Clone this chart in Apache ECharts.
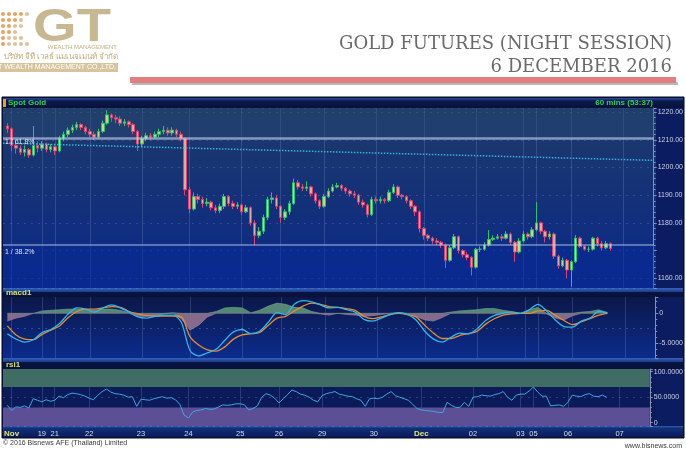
<!DOCTYPE html>
<html><head><meta charset="utf-8">
<script src="https://cdn.jsdelivr.net/npm/echarts@6/dist/echarts.min.js"></script>
<style>html,body{margin:0;padding:0;background:#fff;}#c{width:686px;height:451px;}</style>
</head><body><div id="c"></div>
<script>
// ---------- data ----------
const opens = [
1215,1214,1208,1207,1205.5,1206.5,1204.5,1208,1207,1208.5,
1206.5,1207.5,1206,1210.5,1212,1213.5,1214.5,1215.5,1214.5,1213,
1212,1211,1213,1216,1219,1218,1217.5,1216,1216.5,1215.5,
1213,1208.5,1210.5,1211.5,1211,1212,1213,1213.5,1212.5,1213.5,
1212,1210.5,1192,1185,1189.5,1188.5,1187,1187.5,1185.5,1184.5,
1186,1189.5,1187,1186,1186.5,1184,1185.5,1180,1175.5,1177,
1182,1188.5,1189,1186,1182,1184,1187,1194.5,1193,1192.5,
1193,1190.5,1188,1186,1189.5,1191.5,1193,1193.5,1192.5,1191.5,
1190.5,1190,1187.5,1186.5,1183,1188.5,1188,1188.5,1188,1191,
1193,1190,1189.5,1188,1186,1184,1178,1175.5,1174.5,1173.5,
1173,1172,1166.5,1171,1175,1170,1168.5,1167.5,1164,1170.5,
1170.5,1172,1174,1174.5,1175,1174.5,1176,1173,1169.5,1173.5,
1176,1175,1177.5,1180,1177,1175,1176,1168,1164.5,1166.5,
1163,1166,1174.5,1171.5,1170.5,1170.5,1174.5,1172.5,1171,1172.5];
const closes = [
1214,1208,1207,1205.5,1206.5,1204.5,1208,1207,1208.5,1206.5,
1207.5,1206,1210.5,1212,1213.5,1214.5,1215.5,1214.5,1213,1212,
1211,1213,1216,1219,1218,1217.5,1216,1216.5,1215.5,1213,
1208.5,1210.5,1211.5,1211,1212,1213,1213.5,1212.5,1213.5,1212,
1210.5,1192,1185,1189.5,1188.5,1187,1187.5,1185.5,1184.5,1186,
1189.5,1187,1186,1186.5,1184,1185.5,1180,1175.5,1177,1182,
1188.5,1189,1186,1182,1184,1187,1194.5,1193,1192.5,1193,
1190.5,1188,1186,1189.5,1191.5,1193,1193.5,1192.5,1191.5,1190.5,
1190,1187.5,1186.5,1183,1188.5,1188,1188.5,1188,1191,1193,
1190,1189.5,1188,1186,1184,1178,1175.5,1174.5,1173.5,1173,
1172,1166.5,1171,1175,1170,1168.5,1167.5,1164,1170.5,1170.5,
1172,1174,1174.5,1175,1174.5,1176,1173,1169.5,1173.5,1176,
1175,1177.5,1180,1177,1175,1176,1168,1164.5,1166.5,1163,
1166,1174.5,1171.5,1170.5,1170.5,1174.5,1172.5,1171,1172.5,1170.8];
const lows = [
1212.5,1206,1205,1204.5,1204,1203.5,1204,1205.5,1206,1205.5,
1205.5,1204.5,1205.5,1209.5,1211,1212.5,1213.5,1213.5,1212,1211,
1210,1210.5,1212.5,1215.5,1216.5,1216,1215,1215,1214.5,1212,
1206,1207.5,1209.5,1210,1210.5,1211,1212,1211.5,1211.5,1211,
1209.5,1190,1183.5,1184.5,1187,1185.5,1186,1184.5,1183.5,1183.5,
1185,1186,1185,1185,1183,1183.5,1179,1172,1174.5,1176,
1181,1187,1185,1180,1181,1183,1186.5,1192,1191.5,1191.5,
1189.5,1187,1185,1185.5,1189,1191,1192.5,1191.5,1190.5,1189.5,
1189,1186.5,1185.5,1182,1182.5,1187,1187,1187,1187.5,1190.5,
1189,1188.5,1187,1185,1182.5,1176.5,1174,1173.5,1172.5,1172,
1171,1163.7,1166,1170.5,1169,1167.5,1166.5,1161,1163.5,1169.5,
1170,1171.5,1173.5,1174,1173.5,1174,1172,1166,1169,1173,
1174,1174.5,1177,1176,1173,1174,1167,1163.5,1164,1160,
1157,1165.5,1171,1170,1169.5,1170,1171.5,1170,1170.5,1170];
const highs = [
1216,1214.5,1209.5,1208,1208,1207,1215,1209.5,1209.5,1209,
1208.5,1208,1211.5,1213,1214.5,1215.5,1216.5,1216,1215,1214,
1213,1214,1217,1220.7,1219.5,1219,1218.5,1217.5,1217,1216,
1213.5,1211.5,1212.5,1212.5,1213,1214,1215,1214.5,1214.5,1214,
1213,1211,1193,1191,1190.5,1189.5,1189,1188,1186.5,1187,
1190.5,1190,1188,1187.5,1187,1186.5,1186,1181,1178.5,1183,
1189.5,1191,1190,1186.5,1185,1188,1196,1195.5,1194,1195,
1193.5,1191,1188.5,1190.5,1192.5,1194,1194.5,1194,1193,1192,
1191.5,1190.5,1188.5,1187,1189.5,1189.5,1189.5,1189,1192,1194,
1193.5,1190.5,1190,1188.5,1186.5,1184.5,1178.5,1176,1175,1174.5,
1173.5,1172.5,1172,1176,1175.5,1170.5,1169.5,1168,1171,1171.5,
1173,1177.4,1175.5,1176,1176,1177,1176.5,1173.5,1174.5,1177,
1176.5,1178.5,1187.5,1180.5,1177.5,1177,1176.5,1168.5,1167.5,1167,
1166.5,1175.6,1175,1172,1171.5,1175,1175,1173.5,1173.5,1173];

// MACD panel (one reading every two hourly bars)
const macdLine = [
-3.4,-4.3,-4.8,-4.4,-3.2,-2.7,-1.7,-0.1,0.9,0.7,
0.2,0.9,1.4,0.9,0.2,-0.6,-0.8,-0.5,-0.3,-0.3,
-1.5,-6.2,-7.1,-6.6,-6.0,-4.5,-3.1,-2.7,-3.4,-3.0,
-1.5,0.1,-0.2,1.5,2.1,1.9,1.4,0.9,1.0,0.6,
0.2,-1.0,-1.3,-0.8,-0.2,0.1,-0.2,-1.1,-3.0,-4.3,
-4.8,-4.0,-3.3,-3.45,-2.6,-1.2,-0.35,0.0,0.2,0.0,
0.6,1.5,0.4,-1.1,-2.2,-2.3,-1.3,-0.8,0.3,0.1];
const signalLine = [
-2.1,-3.6,-4.3,-4.4,-3.5,-2.8,-2.1,-0.7,0.3,0.7,
0.7,0.9,1.1,1.0,0.3,-0.1,-0.4,-0.45,-0.45,-0.45,
-0.6,-3.9,-5.3,-6.1,-6.3,-5.6,-4.3,-3.6,-3.4,-3.2,
-2.0,-0.8,-0.5,0.4,1.2,1.7,1.5,1.1,1.0,0.8,
0.5,-0.5,-0.9,-0.6,-0.2,0.0,-0.2,-0.6,-2.0,-3.3,
-4.2,-4.2,-3.7,-3.4,-3.0,-1.8,-0.9,-0.3,-0.1,0.0,
0.0,0.4,0.5,-0.3,-1.2,-1.9,-1.4,-0.9,-0.3,0.0];
const macdHist = [
-1.3,-0.8,-0.5,0.0,0.4,0.5,0.6,0.7,0.7,0.6,
0.5,0.7,0.7,0.5,0.1,-0.5,-0.5,-0.4,-0.1,0.1,
-0.9,-2.8,-2.0,-0.6,0.3,0.9,1.0,0.9,0.1,0.5,
1.2,1.7,1.5,1.0,0.9,0.3,-0.1,-0.3,0.0,-0.2,
-0.3,-0.5,-0.4,-0.2,0.0,0.1,0.0,-0.5,-1.1,-1.3,
-0.7,0.2,0.4,0.5,0.6,0.8,0.8,0.5,0.3,0.0,
0.6,1.0,-0.1,-0.8,-1.1,-0.4,0.2,0.3,0.6,0.1];
const macdGuides = [-2.5];

// RSI panel (one reading per bar)
const rsiValues = [
34,24,31,30,33,29,47,44,41,45,
42,44,52,49,55,58,57,55,52,48,
45,54,61,66,60,57,56,54,50,51,
32,46,45,44,47,49,51,48,49,45,
36,15,9,21,24,25,28,26,27,31,
35,34,35,37,37,35,25,28,33,50,
57,54,48,39,47,55,64,61,56,54,
50,44,41,53,57,59,61,56,54,52,
51,47,44,32,47,48,47,50,56,61,
53,50,47,44,36,28,25,24,23,22,
20,20,40,34,30,30,40,32,50,51,
54,53,52,55,57,61,50,44,54,56,
56,62,70,60,52,52,33,34,35,32,
40,54,52,51,55,57,52,51,54,50];
const rsiBands = [30, 70];

const fibLevels = [1210.7, 1172.0];
const fibNames = ['1 / 61.8%', '1 / 38.2%'];
const trendLine = [1208.8, 1202.6];
const lastPrice = 1170.8;

// time axis: 151 slots, tick labels
const SLOTS = 151;
const xTickIdx  = [2, 9, 12, 20, 32, 43, 55, 64, 74, 86, 97, 109, 120, 123, 131, 143];
const xTickText = ['Nov','19','21','22','23','24','25','26','29','30','Dec','02','03','05','06','07'];
const monthLabels = ['Nov','Dec'];

// axis ranges
const priceRange = [1156.5, 1221.5];
const macdRange = [-7.45, 2.72];
const rsiRange = [-6.5, 105.3];

// ---------- build ----------
const cats = Array.from({length: SLOTS}, (_, i) => String(i));
const tickMap = {};
xTickIdx.forEach((k, n) => { tickMap[k] = xTickText[n]; });
const isTick = (i) => tickMap[i] !== undefined;

const candleData = opens.map((o, k) => [k + 1, o, closes[k], lows[k], highs[k]]);
const rsiData = rsiValues.map((v, k) => [k + 1, v]);
const macdData = macdLine.map((v, j) => [2 * j + 1, v]);
const sigData = signalLine.map((v, j) => [2 * j + 1, v]);
// histogram drawn as two filled areas: the part above zero and the part below zero
const histPos = macdHist.map((v, j) => [2 * j + 1, v > 0 ? v : 0]);
const histNeg = macdHist.map((v, j) => [2 * j + 1, v < 0 ? v : 0]);

const G = [
  {left: 3, top: 108, width: 653, height: 180},
  {left: 3, top: 297, width: 653, height: 61},
  {left: 3, top: 369, width: 653, height: 57}
];
const vSplit = {show: true, interval: (i) => isTick(i), lineStyle: {color: 'rgba(150,175,225,0.22)', width: 1}};
function xAx(gi, showLabels) {
  return {
    type: 'category', gridIndex: gi, data: cats, boundaryGap: false,
    axisLine: {show: false}, axisTick: {show: false},
    splitLine: vSplit,
    axisLabel: showLabels ? {
      show: true, interval: (i) => isTick(i), margin: 4,
      formatter: (v) => {
        const t = tickMap[+v];
        if (t === undefined) return '';
        return monthLabels.indexOf(t) >= 0 ? '{m|' + t + '}' : t;
      },
      color: '#d6dcea', fontSize: 7.5, fontFamily: 'Liberation Sans',
      rich: {m: {color: '#e4e47a', fontWeight: 'bold', fontSize: 8, fontFamily: 'Liberation Sans'}}
    } : {show: false}
  };
}
const axLbl = {color: '#c9d0e2', fontSize: 7, fontFamily: 'Liberation Sans', margin: 4};
const axLine = {show: true, lineStyle: {color: '#7f8fb8', width: 1}};
const minorT = {show: true, splitNumber: 5, length: 2, lineStyle: {color: '#7f8fb8'}};

// logo dots (decorative)
const logoDots = [];
[[3,14],[9,14],[15,14],[21,14],[27,14],
 [3,20],[9,20],[15,20],[21,20],
 [3,26],[9,26],[15,26],[21,26],
 [3,32],[9,32],[15,32],
 [3,38],[9,38],[15,38],[21,38],
 [3,44],[9,44],[15,44],[21,44],[27,44]].forEach((p, n) => {
  logoDots.push({type: 'circle', shape: {cx: p[0], cy: p[1], r: 2.1}, style: {fill: (p[0] + p[1] * 0.6 < 30) ? '#e8a464' : '#dcc3a0'}});
});

const option = {
  animation: false,
  backgroundColor: '#ffffff',
  grid: G,
  xAxis: [xAx(0, false), xAx(1, false), xAx(2, true)],
  yAxis: [
    {type: 'value', gridIndex: 0, position: 'right', min: priceRange[0], max: priceRange[1], scale: true,
     axisLine: axLine, axisTick: {show: true, length: 3, lineStyle: {color: '#7f8fb8'}}, minorTick: minorT,
     splitLine: {show: true, lineStyle: {color: 'rgba(150,175,225,0.22)', type: [2, 5]}},
     axisLabel: Object.assign({}, axLbl, {showMinLabel: false, showMaxLabel: false,
       formatter: (v) => (Math.abs(v % 10) < 1e-6 && Math.abs(v - 1170) > 1e-6) ? v.toFixed(2) : ''})},
    {type: 'value', gridIndex: 1, position: 'right', min: macdRange[0], max: macdRange[1], splitNumber: 2,
     axisLine: axLine, axisTick: {show: true, length: 3, lineStyle: {color: '#7f8fb8'}}, minorTick: minorT,
     splitLine: {show: false},
     axisLabel: Object.assign({}, axLbl, {showMinLabel: false, showMaxLabel: false,
       formatter: (v) => Math.abs(v) < 1e-6 ? '0' : (Math.abs(v + 5) < 1e-6 ? '-5.0000' : '')})},
    {type: 'value', gridIndex: 2, position: 'right', min: rsiRange[0], max: rsiRange[1], splitNumber: 2,
     axisLine: axLine, axisTick: {show: true, length: 3, lineStyle: {color: '#7f8fb8'}}, minorTick: minorT,
     splitLine: {show: true, lineStyle: {color: 'rgba(150,175,225,0.25)', type: [2, 5]}},
     axisLabel: Object.assign({}, axLbl, {showMinLabel: false, showMaxLabel: false,
       formatter: (v) => Math.abs(v) < 1e-6 ? '0' : (Math.abs(v - 50) < 1e-6 ? '50.0000' : (Math.abs(v - 100) < 1e-6 ? '100.0000' : ''))})}
  ],
  series: [
    {type: 'candlestick', name: 'Spot Gold', xAxisIndex: 0, yAxisIndex: 0, data: candleData,
     encode: {x: 0, y: [1, 2, 3, 4]}, barWidth: 3,
     itemStyle: {color: '#c8d48c', color0: '#e2aa9c', borderColor: '#2cc46a', borderColor0: '#e8406e', borderWidth: 1},
     markArea: {silent: true, data: [
       [{yAxis: priceRange[0], itemStyle: {color: 'rgba(8,40,150,0.55)'}}, {yAxis: fibLevels[1]}],
       [{yAxis: fibLevels[0], itemStyle: {color: 'rgba(40,70,110,0.45)'}}, {yAxis: priceRange[1]}]
     ]},
     markLine: {silent: true, symbol: 'none', animation: false, data: [
       {yAxis: fibLevels[0], lineStyle: {color: 'rgba(190,205,235,0.65)', width: 2.5, type: 'solid'},
        label: {show: true, position: 'insideStartBottom', formatter: fibNames[0], color: '#dfe5f2', fontSize: 7, fontFamily: 'Liberation Sans', distance: [2, 1]}},
       {yAxis: fibLevels[1], lineStyle: {color: 'rgba(190,205,235,0.6)', width: 1.5, type: 'solid'},
        label: {show: true, position: 'insideStartBottom', formatter: fibNames[1], color: '#dfe5f2', fontSize: 7, fontFamily: 'Liberation Sans', distance: [2, 3]}},
       {yAxis: lastPrice, lineStyle: {opacity: 0},
        label: {show: true, position: 'end', formatter: lastPrice.toFixed(2), color: '#000', backgroundColor: '#f4f000',
                fontSize: 7, fontFamily: 'Liberation Sans', padding: [1, 1], distance: 1}}
     ]}},
    {type: 'line', name: 'trend', xAxisIndex: 0, yAxisIndex: 0, data: [[0, trendLine[0]], [SLOTS - 1, trendLine[1]]],
     symbol: 'none', lineStyle: {color: '#36b4d4', width: 1.5, type: [1.5, 1.5]}, z: 3},
    {type: 'line', name: 'histPos', xAxisIndex: 1, yAxisIndex: 1, data: histPos, symbol: 'none',
     lineStyle: {width: 0.6, color: '#6aa885'}, areaStyle: {color: '#5c9577', opacity: 0.9}, z: 1,
     markLine: {silent: true, symbol: 'none', data: macdGuides.map(v => ({yAxis: v})),
       lineStyle: {color: 'rgba(150,175,225,0.3)', type: [2, 5], width: 1}, label: {show: false}}},
    {type: 'line', name: 'histNeg', xAxisIndex: 1, yAxisIndex: 1, data: histNeg, symbol: 'none',
     lineStyle: {width: 0.6, color: '#a584a0'}, areaStyle: {color: '#937290', opacity: 0.9}, z: 1},
    {type: 'line', name: 'macd', xAxisIndex: 1, yAxisIndex: 1, data: macdData, symbol: 'none', smooth: 0.3,
     lineStyle: {color: '#2fb6ea', width: 1.3}, z: 4},
    {type: 'line', name: 'signal', xAxisIndex: 1, yAxisIndex: 1, data: sigData, symbol: 'none', smooth: 0.3,
     lineStyle: {color: '#e98a2c', width: 1.3}, z: 3},
    {type: 'line', name: 'rsi', xAxisIndex: 2, yAxisIndex: 2, data: rsiData, symbol: 'none',
     lineStyle: {color: '#3aa6e0', width: 1}, z: 4,
     markArea: {silent: true, data: [
       [{yAxis: rsiBands[1], itemStyle: {color: '#3f6d63'}}, {yAxis: rsiRange[1]}],
       [{yAxis: rsiRange[0], itemStyle: {color: '#5d4f95'}}, {yAxis: rsiBands[0]}]
     ]}}
  ],
  graphic: [
    // chart frame and panels
    {type: 'rect', z: -10, shape: {x: 2, y: 97, width: 682, height: 341}, style: {fill: '#0a1542', stroke: '#050a20', lineWidth: 1}},
    {type: 'rect', z: -9, shape: {x: 3, y: 98, width: 680, height: 10},
     style: {fill: new echarts.graphic.LinearGradient(0, 0, 0, 1, [{offset: 0, color: '#2a4fa0'}, {offset: 0.3, color: '#0c1a4e'}, {offset: 1, color: '#08113a'}])}},
    {type: 'rect', z: -9, shape: {x: 3, y: 108, width: 653, height: 180},
     style: {fill: new echarts.graphic.LinearGradient(0, 0, 0, 1, [{offset: 0, color: '#1d3a6a'}, {offset: 0.6, color: '#122f7c'}, {offset: 1, color: '#0c2c8a'}])}},
    {type: 'rect', z: -9, shape: {x: 3, y: 288, width: 680, height: 9},
     style: {fill: new echarts.graphic.LinearGradient(0, 0, 0, 1, [{offset: 0, color: '#3564bc'}, {offset: 0.45, color: '#1a3a88'}, {offset: 0.5, color: '#0a1442'}, {offset: 1, color: '#08113a'}])}},
    {type: 'rect', z: -9, shape: {x: 3, y: 297, width: 653, height: 61},
     style: {fill: new echarts.graphic.LinearGradient(0, 0, 0, 1, [{offset: 0, color: '#0b1748'}, {offset: 1, color: '#0b2c8e'}])}},
    {type: 'rect', z: -9, shape: {x: 3, y: 358, width: 680, height: 11},
     style: {fill: new echarts.graphic.LinearGradient(0, 0, 0, 1, [{offset: 0, color: '#3564bc'}, {offset: 0.35, color: '#1a3a88'}, {offset: 0.4, color: '#0a1442'}, {offset: 1, color: '#08113a'}])}},
    {type: 'rect', z: -9, shape: {x: 3, y: 369, width: 653, height: 57}, style: {fill: '#0b1b5a'}},
    {type: 'rect', z: -9, shape: {x: 3, y: 426, width: 680, height: 11},
     style: {fill: new echarts.graphic.LinearGradient(0, 0, 0, 1, [{offset: 0, color: '#3060b8'}, {offset: 0.2, color: '#123078'}, {offset: 1, color: '#0a1a5a'}])}},
    {type: 'rect', z: -9, shape: {x: 656, y: 108, width: 27, height: 180}, style: {fill: '#0c1c60'}},
    {type: 'rect', z: -9, shape: {x: 656, y: 297, width: 27, height: 61}, style: {fill: '#0c1c60'}},
    {type: 'rect', z: -9, shape: {x: 656, y: 369, width: 27, height: 57}, style: {fill: '#0c1c60'}},
    {type: 'rect', z: 5, shape: {x: 3, y: 99, width: 3, height: 8}, style: {fill: '#f0a020'}},
    {type: 'text', z: 5, x: 8, y: 103, style: {text: 'Spot Gold', fill: '#2fd04e', font: 'bold 8px Liberation Sans', textVerticalAlign: 'middle', verticalAlign: 'middle'}},
    {type: 'text', z: 5, x: 653, y: 103, style: {text: '60 mins (53:37)', fill: '#2fd04e', font: 'bold 8px Liberation Sans', textAlign: 'right', align: 'right', textVerticalAlign: 'middle', verticalAlign: 'middle'}},
    {type: 'text', z: 5, x: 6, y: 293, style: {text: 'macd1', fill: '#d6e070', font: 'bold 8px Liberation Sans', textVerticalAlign: 'middle', verticalAlign: 'middle'}},
    {type: 'text', z: 5, x: 6, y: 365, style: {text: 'rsi1', fill: '#d6e070', font: 'bold 8px Liberation Sans', textVerticalAlign: 'middle', verticalAlign: 'middle'}},
    // footer
    {type: 'text', x: 3, y: 443, style: {text: '\u00a9 2016 Bisnews AFE (Thailand) Limited', fill: '#3a3a3a', font: '7px Liberation Sans', textVerticalAlign: 'middle', verticalAlign: 'middle'}},
    {type: 'text', x: 682, y: 446, style: {text: 'www.bisnews.com', fill: '#3a3a3a', font: '7px Liberation Sans', textAlign: 'right', align: 'right', textVerticalAlign: 'middle', verticalAlign: 'middle'}},
    // header: title
    {type: 'text', x: 672, y: 44, style: {text: 'GOLD FUTURES (NIGHT SESSION)', fill: '#6a6a6a', font: '18px DejaVu Serif', textAlign: 'right', align: 'right', textVerticalAlign: 'middle', verticalAlign: 'middle'}},
    {type: 'text', x: 672, y: 67, style: {text: '6 DECEMBER 2016', fill: '#6a6a6a', font: '18px DejaVu Serif', textAlign: 'right', align: 'right', textVerticalAlign: 'middle', verticalAlign: 'middle'}},
    {type: 'rect', shape: {x: 132, y: 82, width: 546, height: 3}, style: {fill: '#b8b8b8'}},
    {type: 'rect', shape: {x: 130, y: 77, width: 546, height: 6}, style: {fill: '#df7f7f'}},
    // header: logo
    {type: 'group', children: logoDots},
    {type: 'group', x: 33, y: 28, scaleX: 1.22, scaleY: 1, children: [
      {type: 'text', x: 0, y: 0, style: {text: 'GT', fill: '#c7b891', font: 'bold 46px Liberation Sans', textVerticalAlign: 'middle', verticalAlign: 'middle'}}
    ]},
    {type: 'text', x: 117, y: 47, style: {text: 'WEALTH MANAGEMENT', fill: '#bfae86', font: '6px Liberation Sans', textAlign: 'right', align: 'right', textVerticalAlign: 'middle', verticalAlign: 'middle'}},
    {type: 'text', x: 118, y: 57, style: {text: 'บริษัท จีที เวลธ์ แมเนจเมนท์ จำกัด', fill: '#c3a776', font: '8px Noto Sans, DejaVu Sans, sans-serif', textAlign: 'right', align: 'right', textVerticalAlign: 'middle', verticalAlign: 'middle'}},
    {type: 'rect', shape: {x: 0, y: 63, width: 118, height: 9}, style: {fill: '#d7c39c'}},
    {type: 'text', x: 116, y: 67.5, style: {text: 'GT WEALTH MANAGEMENT CO.,LTD.', fill: '#ffffff', font: '7px Liberation Sans', textAlign: 'right', align: 'right', textVerticalAlign: 'middle', verticalAlign: 'middle'}}
  ]
};
const chart = echarts.init(document.getElementById('c'), null, {renderer: 'canvas'});
chart.setOption(option);
</script>
</body></html>
